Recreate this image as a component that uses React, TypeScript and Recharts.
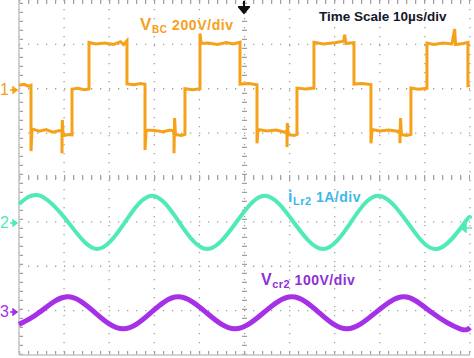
import React from "react";
import { LineChart, Line, XAxis, YAxis, CartesianGrid, ReferenceLine } from "recharts";

// scope capture: V_BC (200 V/div), i_Lr2 (1 A/div), V_cr2 (100 V/div), 10 us/div
const timeTicks = [0, 10, 20, 30, 40, 50, 60, 70, 80, 90, 100];
const divTicks = [-4, -3, -2, -1, 0, 1, 2, 3, 4];

const vbcTrace: [number, number][] = [
  [0, 22], [1.2, 26], [2.0, 18], [2.66, 22],
  [2.66, -275], [2.9, -175], [4.5, -185], [6, -178], [7.5, -190], [9.0, -182], [9.53, -185],
  [9.53, -285], [9.6, -135], [9.8, -205], [11, -200], [11.75, -202],
  [11.75, 4], [13, 8], [14.5, 2], [15.52, 5],
  [15.52, 215], [17, 208], [19, 212], [21, 206], [22.5, 218], [23.2, 205], [23.94, 222],
  [23.94, 28], [25.5, 24], [27, 30], [27.94, 26],
  [27.94, -270], [28.2, -180], [30, -182], [32, -188], [33.5, -180], [34.37, -185],
  [34.37, -285], [34.5, -126], [34.7, -200], [36, -205], [36.8, -200],
  [36.8, 6], [38.5, 2], [40.13, 6],
  [40.13, 255], [40.4, 210], [42, 212], [44, 206], [46, 214], [47.5, 208], [49, 216],
  [49, 27], [51, 30], [52.77, 24],
  [52.77, -240], [53.0, -178], [55, -184], [57, -180], [59, -190], [59.42, -182],
  [59.42, -257], [59.5, -149], [59.7, -200], [61, -205], [61.63, -200],
  [61.63, 9], [63.5, 5], [65.4, 9],
  [65.4, 215], [67.5, 208], [70, 213], [72, 220], [72.2, 250], [72.5, 210], [74.27, 214],
  [74.27, 27], [76, 30], [78.04, 25],
  [78.04, -240], [78.3, -178], [80, -184], [82, -180], [84, -186], [84.47, -182],
  [84.47, -240], [84.6, -126], [84.8, -200], [86, -205], [86.9, -200],
  [86.9, 9], [88.5, 4], [90.45, 8],
  [90.45, 212], [92, 206], [94, 212], [96, 208], [96.6, 275], [96.8, 205], [98.5, 210], [99.54, 215],
  [99.54, 20], [100, 22],
];

// [time us, amps] channel 2
const ilrTrace: [number, number][] = [
  [0, 0.42], [4.66, 0.61], [11.0, 0], [17.3, -0.59], [23.4, 0], [29.5, 0.61],
  [35.6, 0], [41.7, -0.59], [48.1, 0], [54.5, 0.61], [61.0, 0], [67.4, -0.59],
  [73.5, 0], [79.6, 0.61], [86.2, 0], [92.7, -0.59], [98.8, 0], [100, 0.1],
];

// [time us, volts] channel 3
const vcrTrace: [number, number][] = [
  [0, -28], [4.4, -2], [10.6, 34], [16.9, -2], [23.1, -38], [29.2, -2], [35.3, 34],
  [41.6, -2], [47.9, -38], [54.2, -2], [60.5, 34], [66.6, -2], [72.7, -38],
  [79.0, -2], [85.4, 34], [91.6, -2], [97.8, -38], [100, -35],
];

// channel position (div) and scale (unit/div)
const ch1 = { offset: 1.97, scale: 200 };
const ch2 = { offset: -1.02, scale: 1 };
const ch3 = { offset: -3.03, scale: 100 };

const toRows = (trace: [number, number][], ch: { offset: number; scale: number }) =>
  trace.map(([t, v]) => ({ t, y: ch.offset + v / ch.scale }));

const ORANGE = "#F6A11A";
const GREEN = "#50EAB4";
const PURPLE = "#A530E8";
const GRID = "#a0a0a0";

const font = "'Liberation Sans', Arial, sans-serif";

function Marker({ label, color, top }: { label: string; color: string; top: number }) {
  return (
    <div style={{ position: "absolute", left: 0, top, color, font: `16px ${font}`, lineHeight: "16px", display: "flex", alignItems: "center" }}>
      <span>{label}</span>
      <svg width={8} height={8} style={{ marginLeft: 1 }}>
        <path d="M0 4 H5 M3 1 L7 4 L3 7 Z" stroke={color} strokeWidth={1.5} fill={color} />
      </svg>
    </div>
  );
}

export default function App() {
  return (
    <div style={{ position: "absolute", left: 0, top: 0, width: 474, height: 358, background: "#fff", overflow: "hidden" }}>
      <LineChart width={474} height={358} margin={{ top: 0, right: 4, bottom: 3, left: 19 }}>
        <XAxis dataKey="t" type="number" domain={[0, 100]} ticks={timeTicks} hide allowDuplicatedCategory={false} />
        <YAxis type="number" domain={[-4, 4]} ticks={divTicks} hide />
        <CartesianGrid stroke={GRID} strokeWidth={1.3} strokeDasharray="1.3 7.7" horizontalValues={divTicks} verticalValues={timeTicks} />
        {/* centre crosshair and edge tick marks */}
        <ReferenceLine x={50} stroke={GRID} strokeWidth={5} strokeDasharray="1.2 7.8" />
        <ReferenceLine y={0} stroke={GRID} strokeWidth={5} strokeDasharray="1.2 7.8" />
        <ReferenceLine y={-3.955} stroke={GRID} strokeWidth={4} strokeDasharray="1.2 7.8" />
        <ReferenceLine y={3.955} stroke={GRID} strokeWidth={4} strokeDasharray="1.2 7.8" />
        <ReferenceLine x={0.45} stroke={GRID} strokeWidth={4} strokeDasharray="1.2 7.8" />
        <ReferenceLine y={-4} stroke="#c4c4c4" strokeWidth={1.5} />
        <ReferenceLine x={0} stroke="#c4c4c4" strokeWidth={1.5} />
        <Line data={toRows(vbcTrace, ch1)} dataKey="y" type="linear" stroke={ORANGE} strokeWidth={3} dot={false} isAnimationActive={false} />
        <Line data={toRows(ilrTrace, ch2)} dataKey="y" type="natural" stroke={GREEN} strokeWidth={4} dot={false} isAnimationActive={false} />
        <Line data={toRows(vcrTrace, ch3)} dataKey="y" type="natural" stroke={PURPLE} strokeWidth={5} dot={false} isAnimationActive={false} />
      </LineChart>

      <Marker label="1" color={ORANGE} top={82} />
      <Marker label="2" color={GREEN} top={215} />
      <Marker label="3" color={PURPLE} top={304} />

      {/* trigger position */}
      <svg width={12} height={16} style={{ position: "absolute", left: 238, top: 0 }}>
        <path d="M6 1 V12 M1 7 L6 13 L11 7 Z" stroke="#111" strokeWidth={2} fill="#111" />
      </svg>
      {/* channel 2 right marker */}
      <svg width={12} height={10} style={{ position: "absolute", left: 460, top: 223 }}>
        <path d="M12 5 H4 M6 1 L1 5 L6 9 Z" stroke={GREEN} strokeWidth={1.5} fill={GREEN} />
      </svg>

      <div style={{ position: "absolute", left: 140, top: 15, color: ORANGE, font: `bold 14px ${font}`, letterSpacing: 0.6, whiteSpace: "nowrap" }}>
        <span style={{ fontSize: 17 }}>V</span>
        <span style={{ fontSize: 10, position: "relative", top: 3 }}>BC</span>
        <span> 200V/div</span>
      </div>
      <div style={{ position: "absolute", left: 319, top: 9, color: "#15172a", font: `bold 13.5px ${font}`, whiteSpace: "nowrap" }}>
        Time Scale 10µs/div
      </div>
      <div style={{ position: "absolute", left: 288, top: 188, color: "#3db8ea", font: `bold 14px ${font}`, letterSpacing: 0.5, whiteSpace: "nowrap" }}>
        <span style={{ fontSize: 16 }}>i</span>
        <span style={{ fontSize: 11, position: "relative", top: 3 }}>Lr2</span>
        <span> 1A/div</span>
      </div>
      <div style={{ position: "absolute", left: 261, top: 271, color: "#8f2fd8", font: `bold 14px ${font}`, letterSpacing: 0.5, whiteSpace: "nowrap" }}>
        <span style={{ fontSize: 16 }}>V</span>
        <span style={{ fontSize: 11, position: "relative", top: 3 }}>cr2</span>
        <span> 100V/div</span>
      </div>
    </div>
  );
}
